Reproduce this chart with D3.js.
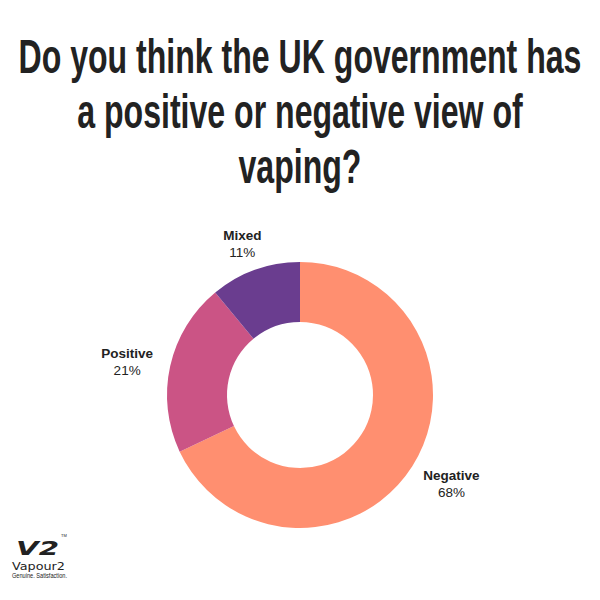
<!DOCTYPE html>
<html><head><meta charset="utf-8">
<script src="https://cdn.jsdelivr.net/npm/d3@7"></script>
<style>html,body{margin:0;padding:0;background:#fff;}</style>
</head><body>
<svg id="c" width="600" height="600"></svg>
<script>
const titleLines = ["Do you think the UK government has", "a positive or negative view of", "vaping?"];
const categories = ["Negative", "Positive", "Mixed"];
const values = [68, 21, 11];
const colors = ["#ff8f70", "#cb5485", "#6a3d8f"];

const svg = d3.select("#c");
svg.append("rect").attr("width",600).attr("height",600).attr("fill","#fff");

// Title: fit first line width to 563px, stretch vertically to the reference cap height
const baseSize = 47.5, titleW = 563;
const tfont = "'Liberation Sans Narrow','Liberation Sans',sans-serif";
const probe = svg.append("text").attr("font-family",tfont).attr("font-weight","bold")
  .attr("font-size",baseSize).text(titleLines[0]);
const natW = probe.node().getComputedTextLength();
probe.remove();
const fs = Math.min(baseSize, baseSize*titleW/natW);
const ky = baseSize/fs;
const baselines = [73, 128, 183];
svg.selectAll("text.title").data(titleLines).enter().append("text")
  .attr("class","title")
  .attr("x",300).attr("y",0).attr("text-anchor","middle")
  .attr("transform",(d,i)=>`translate(0,${baselines[i]}) scale(1,${ky})`)
  .attr("font-family",tfont)
  .attr("font-weight","bold").attr("font-size",fs)
  .attr("fill","#222")
  .text(d=>d);

// Donut
const cx=300, cy=395, R=133, r0=73;
const pie = d3.pie().sort(null).value(d=>d.v);
const arcs = pie(categories.map((c,i)=>({c, v:values[i], col:colors[i]})));
const arc = d3.arc().innerRadius(r0).outerRadius(R);
const g = svg.append("g").attr("transform",`translate(${cx},${cy})`);
g.selectAll("path").data(arcs).enter().append("path")
  .attr("d",arc).attr("fill",d=>d.data.col);

// Labels
const lr = 151;
const lab = g.selectAll("g.lab").data(arcs).enter().append("g").attr("class","lab");
lab.each(function(d){
  const a = (d.startAngle+d.endAngle)/2;
  const sx=Math.sin(a), sy=-Math.cos(a);
  const gg=d3.select(this);
  gg.append("text").attr("text-anchor","middle").attr("y",-4)
    .attr("font-family","'Liberation Sans',Arial,sans-serif").attr("font-weight","bold")
    .attr("font-size",13.5).attr("fill","#222").text(d.data.c);
  gg.append("text").attr("text-anchor","middle").attr("y",13)
    .attr("font-family","'Liberation Sans',Arial,sans-serif")
    .attr("font-size",13.5).attr("fill","#222").text(d.data.v+"%");
  const bb=this.getBBox();
  const hw=bb.width/2, hh=bb.height/2*0.7;
  gg.attr("transform",`translate(${sx*lr+sx*hw},${sy*lr+sy*hh+2})`);
});

// Logo
const logo = svg.append("g").attr("fill","#222");
logo.append("text").attr("x",16).attr("y",555)
  .attr("font-family","'DejaVu Sans',sans-serif").attr("font-weight","bold").attr("font-style","italic")
  .attr("font-size",20).attr("textLength",43).attr("lengthAdjust","spacingAndGlyphs").text("V2");
logo.append("text").attr("x",61).attr("y",537).attr("font-family","'Liberation Sans',sans-serif").attr("font-size",4).text("TM");
logo.append("text").attr("x",12).attr("y",570)
  .attr("font-family","'DejaVu Sans',sans-serif")
  .attr("font-size",10).attr("textLength",53).attr("lengthAdjust","spacingAndGlyphs").text("Vapour2");
logo.append("text").attr("x",12).attr("y",578)
  .attr("font-family","'Liberation Sans Narrow','Liberation Sans',sans-serif")
  .attr("font-size",6.5).attr("textLength",55).attr("lengthAdjust","spacingAndGlyphs").text("Genuine. Satisfaction.");
</script>
</body></html>
